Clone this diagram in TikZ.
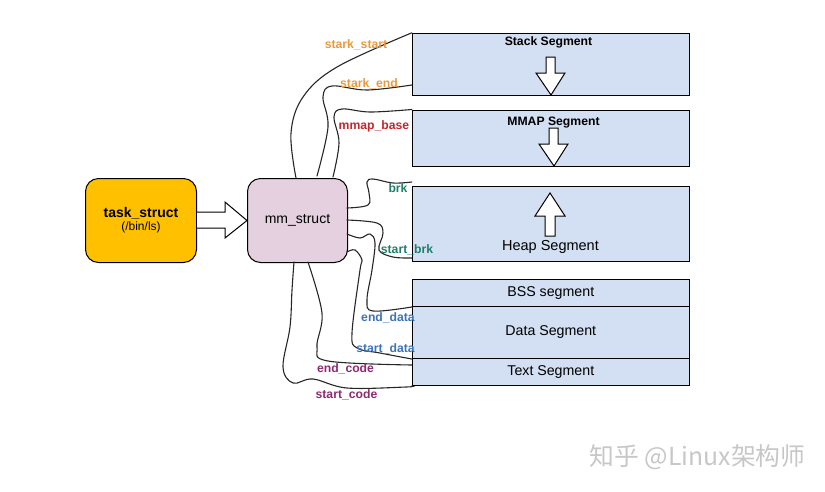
\documentclass[tikz,border=0pt]{standalone}
\usepackage{fontspec}
\setmainfont{Liberation Sans}
\newfontfamily\cjkwm{Noto Sans CJK SC}
\definecolor{segfill}{HTML}{D3DFF2}
\definecolor{taskfill}{HTML}{FFC000}
\definecolor{mmfill}{HTML}{E4D0DF}
\definecolor{lorange}{HTML}{E89A3C}
\definecolor{lred}{HTML}{C0282D}
\definecolor{lgreen}{HTML}{1F7F6B}
\definecolor{lblue}{HTML}{3D74B8}
\definecolor{lpurple}{HTML}{8E2A72}
\newcommand{\segtext}[2][-1.2pt]{\raisebox{#1}{#2}}
\tikzset{
  seg/.style={draw=black,fill=segfill,line width=1pt,minimum width=277pt,inner sep=0pt,anchor=north west,font=\fontsize{14.2}{16}\selectfont},
  rbox/.style={draw=black,line width=1pt,rounded corners=13pt,minimum width=111pt,minimum height=84pt,inner sep=0pt,anchor=north west},
  blockarrow/.style={draw=black,fill=white,line width=1pt,line join=miter},
  link/.style={draw=black!85,line width=1.1pt,line cap=round},
  lab/.style={font=\fontsize{12.2}{14}\selectfont\bfseries,inner sep=0pt},
  title/.style={font=\fontsize{12.2}{14}\selectfont\bfseries,inner sep=0pt},
}
\begin{document}
\begin{tikzpicture}[x=1pt,y=-1pt]
\useasboundingbox (0,0) rectangle (825,491);
% memory segments
\node[seg,minimum height=62pt] (stack) at (411.8,32.8) {};
\node[seg,minimum height=56pt] (mmap) at (411.8,109.5) {};
\node[seg,minimum height=75pt] (heap) at (411.8,185.5) {};
\node[seg,minimum height=27pt] (bss) at (411.8,279) {\segtext{BSS segment}};
\node[seg,minimum height=52pt] (data) at (411.8,306) {\segtext[-2.6pt]{Data Segment}};
\node[seg,minimum height=27pt] (text) at (411.8,358) {\segtext[-2pt]{Text Segment}};
\node[title] (stacktitle) at (548.5,42.5) {Stack Segment};
\node[title] (mmaptitle) at (553.5,122.5) {MMAP Segment};
\node[font=\fontsize{14.5}{16}\selectfont,inner sep=0pt] (heaptitle) at (550.5,247) {Heap Segment};
% growth arrows
\draw[blockarrow] (546,57) -- (555,57) -- (555,73) -- (565,73) -- (551,95) -- (536,73) -- (546,73) -- cycle;
\draw[blockarrow] (549,128) -- (558,128) -- (558,144) -- (568,144) -- (554,166) -- (539,144) -- (549,144) -- cycle;
\draw[blockarrow] (545,236) -- (555,236) -- (555,216) -- (565,216) -- (550,193) -- (535,216) -- (545,216) -- cycle;
% task and mm boxes
\node[rbox,fill=taskfill,align=center] (task) at (85,178) {{\fontsize{14}{15}\selectfont\bfseries task\_struct}\\[1pt]{\fontsize{12}{13}\selectfont (/bin/ls)}};
\node[rbox,fill=mmfill,minimum width=100pt,font=\fontsize{14}{16}\selectfont] (mm) at (247,178) {mm\_struct};
% big arrow
\draw[blockarrow,fill=white] (task.east |- 0,212) -- (225,212) -- (225,202) -- (mm.west) -- (225,238) -- (225,228) -- (task.east |- 0,228);
% connector ends
\coordinate (mA) at (296,178);
\coordinate (mB) at (317,176);
\coordinate (mC) at (333,177);
\coordinate (mD) at (347,208);
\coordinate (mE) at (347,220);
\coordinate (mF) at (347,234);
\coordinate (mG) at (347,252);
\coordinate (mH) at (308,262);
\coordinate (mI) at (294,262);
\coordinate (sStackEnd) at (411.8,85);
\coordinate (sBrk) at (411.8,182);
\coordinate (sStartBrk) at (411.8,258);
\coordinate (sEndCode) at (411.8,365);
% connectors
\draw[link] plot[smooth,tension=.6] coordinates {(mA) (291,133) (303,97) (337,67) (stack.north west)};
\draw[link] plot[smooth,tension=.6] coordinates {(mB) (328,127) (323,97) (332,86) (367,90) (sStackEnd)};
\draw[link] plot[smooth,tension=.6] coordinates {(mC) (339,143) (334,117) (342,109) (370,112) (mmap.north west)};
\draw[link] plot[smooth,tension=.6] coordinates {(mD) (368,205) (369,193) (367,182) (373,179) (393,183) (sBrk)};
\draw[link] plot[smooth,tension=.6] coordinates {(mE) (377,223) (383,233) (379,250) (393,257) (sStartBrk)};
\draw[link] plot[smooth,tension=.6] coordinates {(mF) (360,238) (370,234) (375,243) (372,270) (367,300) (373,311) (bss.south west)};
\draw[link] plot[smooth,tension=.6] coordinates {(mG) (355,250) (362,260) (360,270) (352,333) (357,348) (380,353) (data.south west)};
\draw[link] plot[smooth,tension=.6] coordinates {(mH) (322,313) (317,347) (328,361) (sEndCode)};
\draw[link] plot[smooth,tension=.6] coordinates {(mI) (292,290) (290,327) (283,367) (293,383) (313,379) (347,388) (406,387) (text.south west)};
% labels
\node[lab,text=lorange] (l1) at (356,45) {stark\_start};
\node[lab,text=lorange] (l2) at (369,84) {stark\_end};
\node[lab,text=lred] (l3) at (374,126) {mmap\_base};
\node[lab,text=lgreen] (l4) at (398,188) {brk};
\node[lab,text=lgreen] (l5) at (407,250) {start\_brk};
\node[lab,text=lblue] (l6) at (388,318) {end\_data};
\node[lab,text=lblue] (l7) at (385.5,349) {start\_data};
\node[lab,text=lpurple] (l8) at (345.5,369) {end\_code};
\node[lab,text=lpurple] (l9) at (346.5,395) {start\_code};
% watermark
\node[text=black!22,inner sep=0pt,font=\cjkwm\fontsize{24.8}{28}\selectfont] (wm) at (697.5,457) {知乎 @Linux架构师};
\end{tikzpicture}
\end{document}
